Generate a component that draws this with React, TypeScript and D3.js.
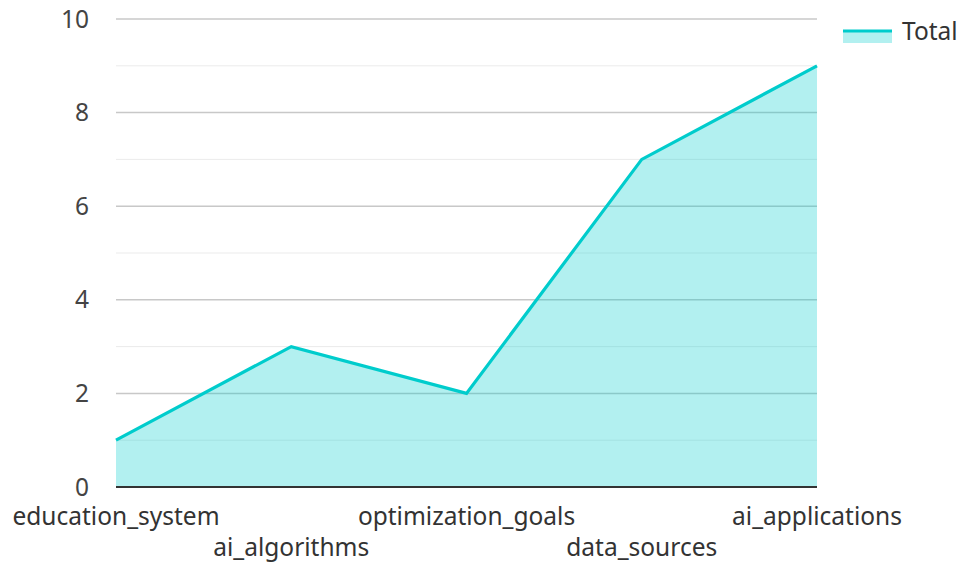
import * as d3 from "d3";

const categories = [
  "education_system",
  "ai_algorithms",
  "optimization_goals",
  "data_sources",
  "ai_applications",
];
const totals = [1, 3, 2, 7, 9];
const majorTicks = [0, 2, 4, 6, 8, 10];
const minorTicks = [1, 3, 5, 7, 9];
const seriesName = "Total";

const WIDTH = 958;
const HEIGHT = 562;
const MARGIN = { top: 19, right: 141, bottom: 75, left: 116 };
const COLOR = "#00CCCC";
const FONT = "'Noto Sans', sans-serif";
const FS = 24.5;

export default function App() {
  const innerW = WIDTH - MARGIN.left - MARGIN.right;
  const innerH = HEIGHT - MARGIN.top - MARGIN.bottom;

  const x = d3
    .scalePoint<string>()
    .domain(categories)
    .range([0, innerW]);

  const y = d3.scaleLinear().domain([0, 10]).range([innerH, 0]);

  const data = categories.map((c, i) => ({ c, v: totals[i] }));

  const area = d3
    .area<{ c: string; v: number }>()
    .x((d) => x(d.c) ?? 0)
    .y0(y(0))
    .y1((d) => y(d.v));

  const line = d3
    .line<{ c: string; v: number }>()
    .x((d) => x(d.c) ?? 0)
    .y((d) => y(d.v));

  return (
    <svg
      width={WIDTH}
      height={HEIGHT}
      style={{ position: "absolute", left: 0, top: 0 }}
      fontFamily={FONT}
    >
      <g transform={`translate(${MARGIN.left},${MARGIN.top})`}>
        {minorTicks.map((t) => (
          <line
            key={"m" + t}
            x1={0}
            x2={innerW}
            y1={y(t)}
            y2={y(t)}
            stroke="#ebebeb"
            strokeWidth={1}
          />
        ))}
        {majorTicks.map((t) => (
          <line
            key={"g" + t}
            x1={0}
            x2={innerW}
            y1={y(t)}
            y2={y(t)}
            stroke="#c8c8c8"
            strokeWidth={1.5}
          />
        ))}
        <path d={area(data) ?? ""} fill={COLOR} fillOpacity={0.3} />
        <path
          d={line(data) ?? ""}
          fill="none"
          stroke={COLOR}
          strokeWidth={3.2}
          strokeLinejoin="miter"
        />
        <line
          x1={0}
          x2={innerW}
          y1={y(0)}
          y2={y(0)}
          stroke="#333"
          strokeWidth={2}
        />
        {majorTicks.map((t) => (
          <text
            key={"t" + t}
            x={-27}
            y={y(t)}
            dy="0.35em"
            textAnchor="end"
            fontSize={FS}
            fill="#444"
          >
            {t}
          </text>
        ))}
        {categories.map((c, i) => (
          <text
            key={c}
            x={x(c) ?? 0}
            y={innerH + (i % 2 === 0 ? 38 : 69)}
            textAnchor="middle"
            fontSize={FS}
            fill="#333"
          >
            {c}
          </text>
        ))}
      </g>
      <g transform="translate(843,31)">
        <rect x={0} y={0} width={49} height={12} fill={COLOR} fillOpacity={0.3} />
        <line x1={0} x2={49} y1={0} y2={0} stroke={COLOR} strokeWidth={3.2} />
        <text x={59} y={0} dy="0.35em" fontSize={FS} fill="#333">
          {seriesName}
        </text>
      </g>
    </svg>
  );
}
